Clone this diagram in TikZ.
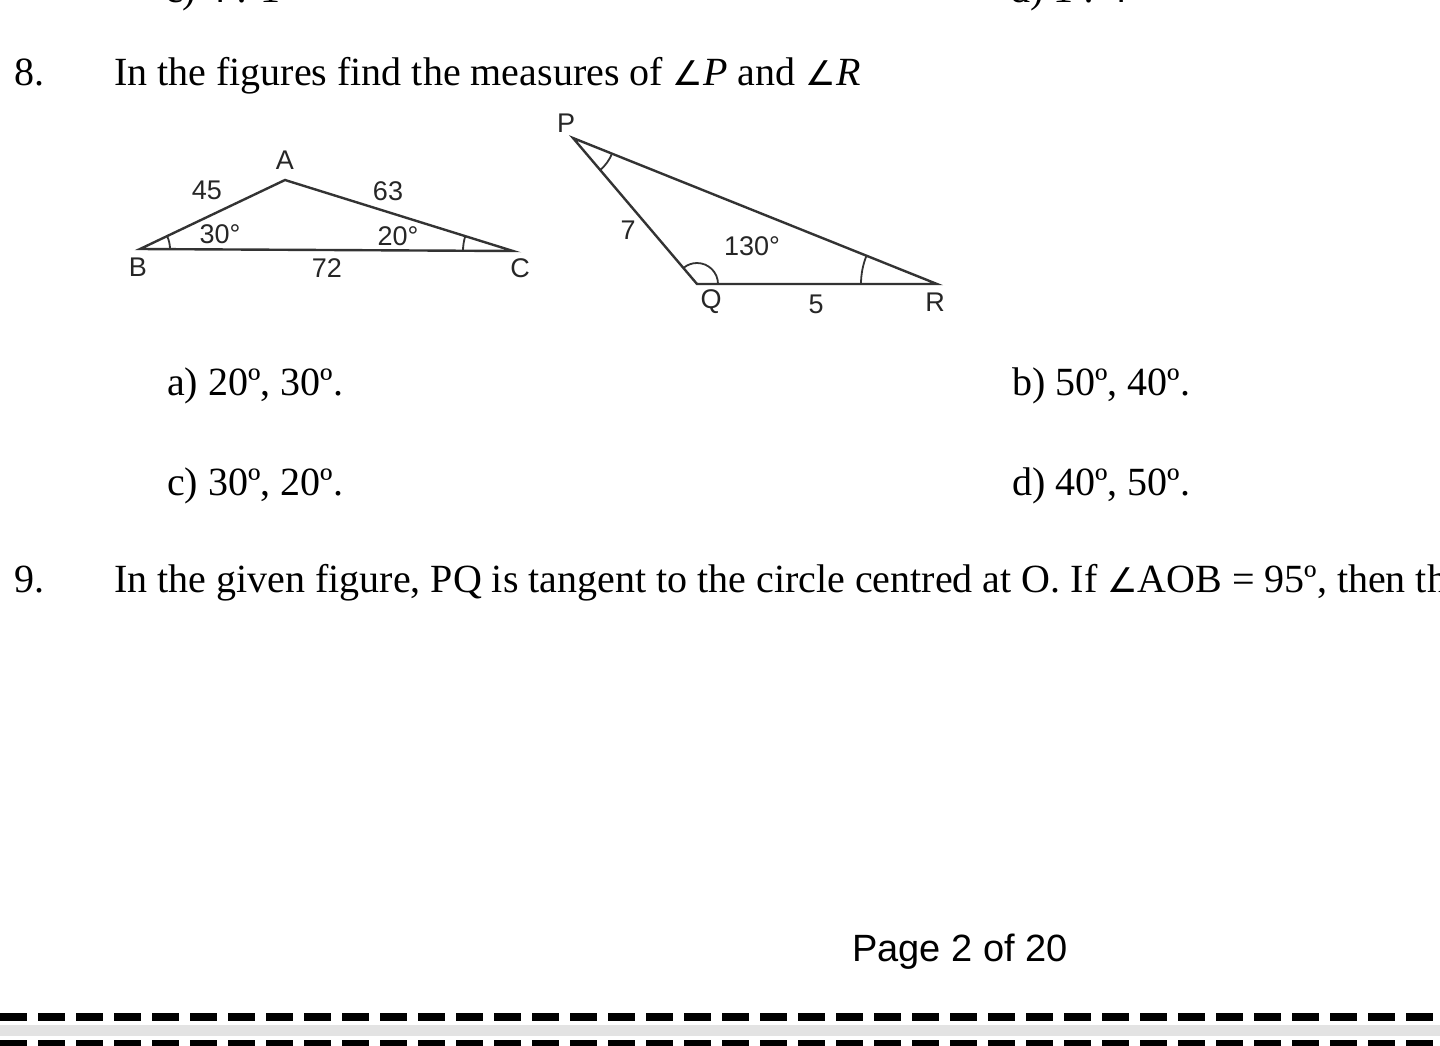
\documentclass[tikz,border=0pt]{standalone}
\usepackage{fontspec}
\setmainfont{Liberation Serif}
\newfontfamily\lsans{Liberation Sans}
\newfontfamily\symf{DejaVu Sans}
\newcommand{\ang}{{\symf\fontsize{34}{40}\selectfont ∠}}
\begin{document}
\begin{tikzpicture}[x=1pt,y=-1pt,
  body/.style={anchor=base west,inner sep=0pt,font=\fontsize{40}{44}\selectfont},
  fig/.style={inner sep=0pt,font=\lsans\fontsize{27}{30}\selectfont,text=black!85},
  edge/.style={line width=2.4pt,black!80},
  angmark/.style={line width=1.8pt,black!80},
  dashln/.style={line width=8pt,dash pattern=on 27pt off 11pt}]
\useasboundingbox (0,0) rectangle (1440,1045);
\node[body] (tc) at (165,2) {c) 4 : 1};
\node[body] (td) at (1010,2) {d) 1 : 4};
\node[body] (q8) at (14,85) {8.};
\node[body] (t8) at (114,85) {In the figures find the measures of \ang\textit{P} and \ang\textit{R}};
% triangle ABC
\coordinate (B) at (140,249); \coordinate (A) at (285,180); \coordinate (C) at (513,251);
\draw[edge] (B) -- (A) -- (C) -- cycle;
\draw[angmark] ([shift={(0:30)}]B) arc[start angle=0,end angle=-25.4,radius=30];
\draw[angmark] ([shift={(180:50)}]C) arc[start angle=180,end angle=197,radius=50];
\node[fig] (lA) at (285,160) {A};
\node[fig] (lB) at (138,267) {B};
\node[fig] (lC) at (520,268) {C};
\node[fig] (l45) at (207,190) {45};
\node[fig] (l63) at (388,191) {63};
\node[fig] (l72) at (327,268) {72};
\node[fig] (l30) at (220,234) {30\textdegree};
\node[fig] (l20) at (398,236) {20\textdegree};
% triangle PQR
\coordinate (P) at (573,138); \coordinate (Q) at (697,284); \coordinate (R) at (937,284);
\draw[edge] (P) -- (Q) -- (R) -- cycle;
\draw[angmark] ([shift={(0:21)}]Q) arc[start angle=0,end angle=-130,radius=21];
\draw[angmark] ([shift={(49.7:42)}]P) arc[start angle=49.7,end angle=22,radius=42];
\draw[angmark] ([shift={(180:76)}]R) arc[start angle=180,end angle=202,radius=76];
\node[fig] (lP) at (566,123) {P};
\node[fig] (lQ) at (711,302) {Q};
\node[fig] (lR) at (935,302) {R};
\node[fig] (l7) at (628,230) {7};
\node[fig] (l5) at (816,304) {5};
\node[fig] (l130) at (752,246) {130\textdegree};
% options
\node[body] (oa) at (167,395) {a) 20º, 30º.};
\node[body] (ob) at (1012,395) {b) 50º, 40º.};
\node[body] (oc) at (167,495) {c) 30º, 20º.};
\node[body] (od) at (1012,495) {d) 40º, 50º.};
\node[body] (q9) at (14,592) {9.};
\node[body] (t9) at (114,592) {In the given figure, PQ is tangent to the circle centred at O. If \ang AOB = 95º, then the};
\node[anchor=base,inner sep=0pt,font=\lsans\fontsize{38}{40}\selectfont] (pg) at (960,961) {Page 2 of 20};
% bottom rules
\coordinate (d1a) at (0,1017); \coordinate (d1b) at (1440,1017);
\coordinate (ga) at (0,1030); \coordinate (gb) at (1440,1030);
\coordinate (d2a) at (0,1044); \coordinate (d2b) at (1440,1044);
\draw[dashln] (d1a) -- (d1b);
\draw[line width=11pt,black!11] (ga) -- (gb);
\draw[dashln] (d2a) -- (d2b);
\end{tikzpicture}
\end{document}
